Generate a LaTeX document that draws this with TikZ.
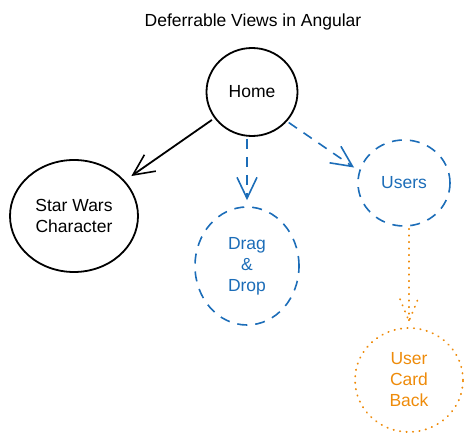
\documentclass[tikz,border=0pt]{standalone}
\usepackage{fontspec}
\setmainfont{Liberation Sans}
\usetikzlibrary{shapes.geometric,arrows.meta,calc}
\definecolor{exblue}{HTML}{1C6DB8}
\definecolor{exorange}{HTML}{EE8B0A}
\tikzset{
  txt/.style={font=\fontsize{17.5}{21}\selectfont, align=center},
  blob/.style={ellipse, inner sep=0pt, txt},
  solidblob/.style={blob, draw=black, line width=1.8pt},
  dashblob/.style={blob, draw=exblue, text=exblue, line width=1.6pt, dash pattern=on 10pt off 8pt},
  dotstyle/.style={draw=exorange, line width=1.8pt, line cap=round, dash pattern=on 0.5pt off 6pt},
  dotblob/.style={blob, text=exorange, dotstyle},
  barb/.style={-{Straight Barb[length=21pt,width=20pt,line width=1.6pt]}},
  solidarrow/.style={draw=black, line width=1.8pt, barb},
  dasharrow/.style={draw=exblue, line width=1.6pt, dash pattern=on 10pt off 8pt, barb},
  dotarrow/.style={dotstyle},
}
\begin{document}
\begin{tikzpicture}[x=1pt,y=-1pt]
\useasboundingbox (0,0) rectangle (474,443);
\node[txt] (title) at (253,22) {Deferrable Views in Angular};
\node[solidblob, minimum width=91pt, minimum height=88pt] (home) at (252,92) {Home};
\node[solidblob, minimum width=128pt, minimum height=112pt] (star) at (74,216) {Star Wars\\Character};
\node[dashblob, minimum width=92pt, minimum height=86pt] (users) at (404,183) {Users};
\node[dashblob, minimum width=104pt, minimum height=118pt] (drag) at (247,266) {Drag\\\&\\Drop};
\node[dotblob, minimum width=108pt, minimum height=104pt] (card) at (409,380) {User\\Card\\Back};
\draw[solidarrow, shorten <=3pt, shorten >=8pt] (home) -- (star);
\draw[dasharrow, shorten <=2pt, shorten >=6pt] (drag.north |- home.south) -- (drag.north);
\draw[dasharrow, shorten <=2pt, shorten >=6pt] (home.-40) -- (users.165);
\coordinate (cardtip) at ($(card.north)+(0,-6)$);
\draw[dotarrow, shorten <=2pt] (card.north |- users.south) -- (cardtip);
\draw[dotarrow] ($(cardtip)+(-9,-22)$) -- (cardtip) -- ($(cardtip)+(9,-22)$);
\end{tikzpicture}
\end{document}
